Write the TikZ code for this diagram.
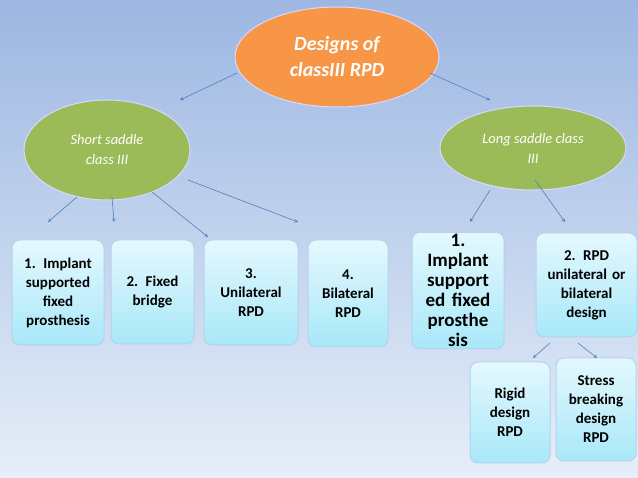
\documentclass[tikz,border=0pt]{standalone}
\usepackage{fontspec}
\setmainfont{Carlito}
\usetikzlibrary{shapes.geometric}
\definecolor{bgtop}{HTML}{9DB7E2}
\definecolor{bgbot}{HTML}{E6EEF8}
\definecolor{orng}{HTML}{F79646}
\definecolor{grn}{HTML}{9BBB59}
\definecolor{arrc}{HTML}{4F81BD}
\definecolor{boxt}{HTML}{E4F8FE}
\definecolor{boxb}{HTML}{A8E8F8}
\definecolor{boxd}{HTML}{B4D2EE}
\begin{document}
\begin{tikzpicture}[x=1pt,y=-1pt,
  box/.style={draw=boxd, line width=1pt, rounded corners=8pt, top color=boxt, bottom color=boxb, align=center, font=\bfseries\fontsize{15}{19}\selectfont, text=black, inner sep=2pt},
  arr/.style={draw=arrc, line width=0.6pt, -stealth},
  ell/.style={ellipse, draw=white!85!blue, line width=1pt, align=center, text=white}]
\shade[top color=bgtop, bottom color=bgbot] (0,0) rectangle (638,478);
\useasboundingbox (0,0) rectangle (638,478);
\node[ell, fill=orng, minimum width=204, minimum height=100, font=\bfseries\itshape\fontsize{20}{26}\selectfont] (top) at (337,57) {Designs of\\classIII RPD};
\node[ell, fill=grn, minimum width=166, minimum height=100, font=\itshape\fontsize{14.5}{20}\selectfont] (short) at (107,150) {Short saddle\\class III};
\node[ell, fill=grn, minimum width=186, minimum height=84, font=\itshape\fontsize{14.5}{20}\selectfont] (long) at (533,148) {Long saddle class\\III};
\node[box, minimum width=92, minimum height=105, text width=88] (b1) at (58,292.5) {1. Implant\\supported\\fixed\\prosthesis};
\node[box, minimum width=83, minimum height=104, text width=79] (b2) at (152.5,292) {2. Fixed\\bridge};
\node[box, minimum width=94, minimum height=105, text width=90] (b3) at (251,292.5) {3.\\Unilateral\\RPD};
\node[box, minimum width=80, minimum height=107, text width=76] (b4) at (348,293.5) {4.\\Bilateral\\RPD};
\node[box, minimum width=90, minimum height=109, text width=88, font=\bfseries\fontsize{19}{20}\selectfont] (b5) at (458,290.5) {1.\\Implant\\support\\ed fixed\\prosthe\\sis};
\node[box, minimum width=99, minimum height=104, text width=97] (b6) at (586.5,285) {2. RPD\\unilateral or\\bilateral\\design};
\node[box, minimum width=80, minimum height=101, text width=76] (b7) at (510,412.5) {Rigid\\design\\RPD};
\node[box, minimum width=80, minimum height=103, text width=76] (b8) at (596,409.5) {Stress\\breaking\\design\\RPD};
\coordinate (a1) at (180,100); \coordinate (a2) at (490,100);
\coordinate (c1) at (48,222); \coordinate (c2) at (114,222);
\coordinate (c3) at (208,237); \coordinate (c4) at (298,222);
\coordinate (c5) at (470,222); \coordinate (c6) at (565,222);
\coordinate (c7) at (533,358); \coordinate (c8) at (597,358);
\draw[arr] (237,73) -- (a1);
\draw[arr] (430,73) -- (a2);
\draw[arr] (77,197) -- (c1);
\draw[arr] (112,197) -- (c2);
\draw[arr] (152,192) -- (c3);
\draw[arr] (188,180) -- (c4);
\draw[arr] (490,190) -- (c5);
\draw[arr] (535,180) -- (c6);
\draw[arr] (550,343) -- (c7);
\draw[arr] (578,343) -- (c8);
\end{tikzpicture}
\end{document}
